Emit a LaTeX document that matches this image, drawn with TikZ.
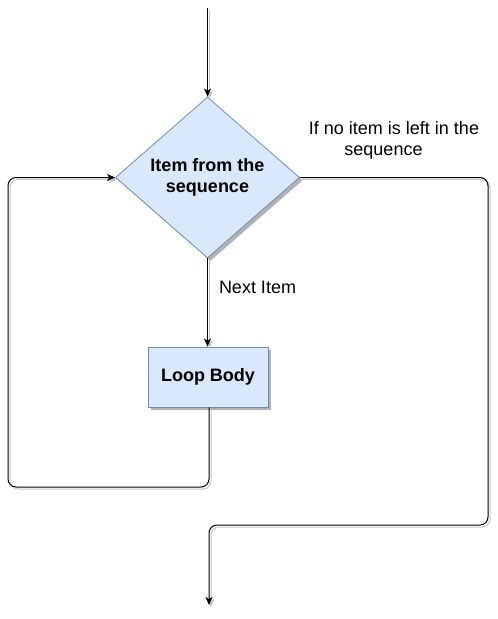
\documentclass[tikz,border=0pt]{standalone}
\usepackage{fontspec}
\setmainfont{Liberation Sans}
\usetikzlibrary{shapes.geometric,arrows.meta,shadows}
\begin{document}
\begin{tikzpicture}[x=1pt,y=-1pt,
  blk/.style={draw=blue2,fill=blue1,line width=0.8pt,
    drop shadow={shadow xshift=3pt,shadow yshift=-3pt,fill=black!30,opacity=1},
    font=\fontsize{18}{21}\selectfont\bfseries,align=center,inner sep=0pt},
  conn/.style={line width=1pt,-{Stealth[length=8pt,width=7pt,inset=2pt]},rounded corners=8pt,
    preaction={draw=black!22,line width=1pt,transform canvas={xshift=2pt,yshift=-2pt}}},
  lbl/.style={font=\fontsize{18}{21}\selectfont,align=center,inner sep=0pt}]
\definecolor{blue1}{HTML}{DAE8FC}
\definecolor{blue2}{HTML}{6C8EBF}
\useasboundingbox (0,0) rectangle (498,619);
\node[blk,diamond,minimum width=184pt,minimum height=161pt] (dia) at (207.5,177.5) {Item from the\\sequence};
\node[blk,rectangle,minimum width=120pt,minimum height=60pt] (body) at (208,377) {Loop Body};
\coordinate (top) at (207.5,8);
\coordinate (loopL) at (8,487);
\coordinate (exitR) at (488,525);
\coordinate (endp) at (209,605);
\draw[conn] (top) -- (dia.north);
\draw[conn] (dia.south) -- node[lbl,pos=0.33,anchor=west,xshift=11pt] (nl) {Next Item} (body.north-|dia.south);
\draw[conn] ([xshift=1pt]body.south) |- (loopL) |- (dia.west);
\draw[conn] (dia.east) -| (exitR) -| (endp);
\node[lbl] (nol) at (394,140) {If no item is left in the\\sequence\hspace*{21pt}};
\end{tikzpicture}
\end{document}
